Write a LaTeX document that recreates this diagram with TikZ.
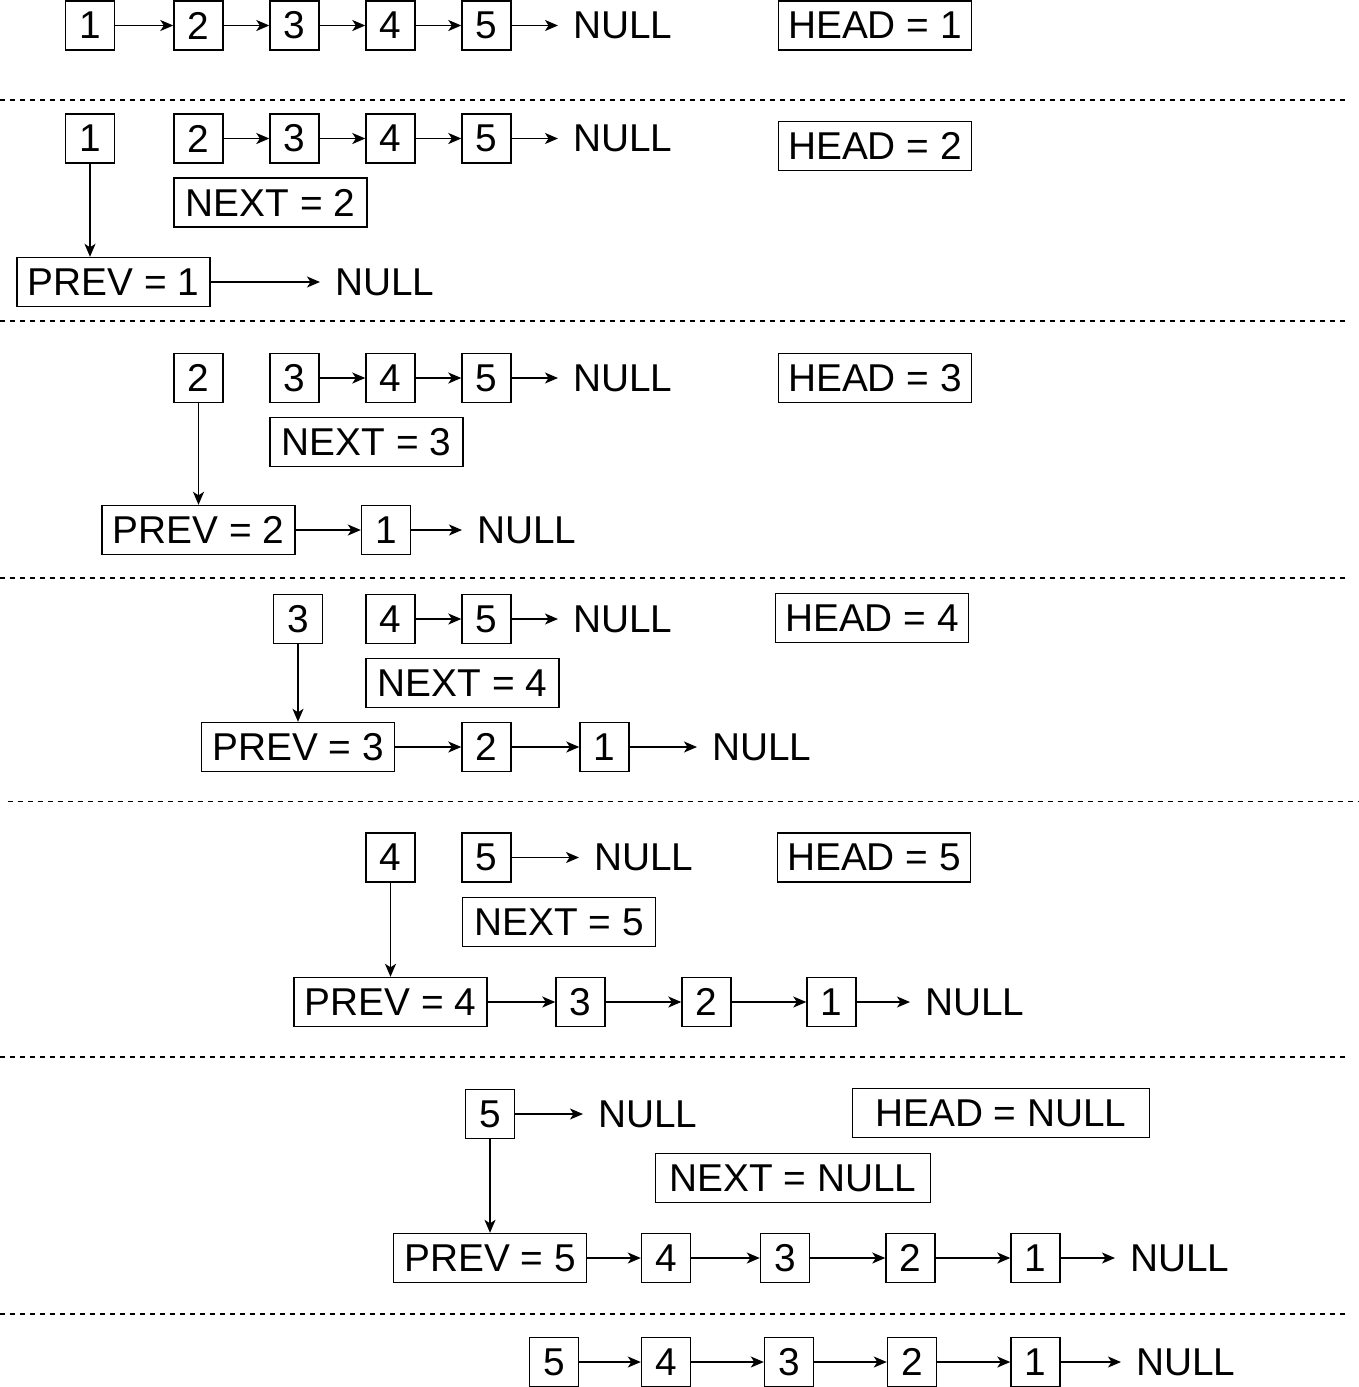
\documentclass[tikz,border=0pt]{standalone}
\usepackage{fontspec}
\setmainfont{Liberation Sans}
\usepackage{tikz}
\usetikzlibrary{positioning,arrows.meta}

\begin{document}
\begin{tikzpicture}[x=1pt,y=-1pt,font=\fontsize{38.8}{44}\selectfont,
    cell/.style={draw, line width=1.4pt, minimum width=49pt, minimum height=49pt, inner sep=0pt},
    wide/.style={cell, minimum width=193pt},
    nul/.style={inner sep=0pt, outer xsep=15pt, anchor=west},
    link/.style={line width=1.5pt, -{Stealth[length=13pt,width=11pt,inset=3.5pt]}},
    divider/.style={line width=1.4pt, dash pattern=on 5pt off 5pt}]
         \useasboundingbox (0,0) rectangle (1358,1387);
         % start
         \node[cell] (a1) at (90,25.5) {1};
         \node[cell] (a2) at (198.5,25.5) {2};
         \node[cell] (a3) at (294.5,25.5) {3};
         \node[cell] (a4) at (390.5,25.5) {4};
         \node[cell] (a5) at (486.5,25.5) {5};
         \node[nul] (an) at (558,25.5) {NULL};
         \node[wide] (ah) at (875,25.5) {HEAD = 1};
         \draw[link] (a1) -- (a2);
         \draw[link] (a2) -- (a3);
         \draw[link] (a3) -- (a4);
         \draw[link] (a4) -- (a5);
         \draw[link] (a5) -- (an);
         \draw[divider] (0,100) -- (1349,100);
         % step 1
         \node[cell] (b1) at (90,138.5) {1};
         \node[cell] (b2) at (198.5,138.5) {2};
         \node[cell] (b3) at (294.5,138.5) {3};
         \node[cell] (b4) at (390.5,138.5) {4};
         \node[cell] (b5) at (486.5,138.5) {5};
         \node[nul] (bn) at (558,138.5) {NULL};
         \node[wide] (bh) at (875,146) {HEAD = 2};
         \node[wide] (bx) at (270.5,202.5) {NEXT = 2};
         \node[wide] (bp) at (113.5,282) {PREV = 1};
         \node[nul] (bpn) at (320,282) {NULL};
         \draw[link] (b2) -- (b3);
         \draw[link] (b3) -- (b4);
         \draw[link] (b4) -- (b5);
         \draw[link] (b5) -- (bn);
         \draw[link] (b1) -- (b1 |- bp.north);
         \draw[link] (bp) -- (bpn);
         \draw[divider] (0,321) -- (1349,321);
         % step 2
         \node[cell] (c2) at (198.5,378) {2};
         \node[cell] (c3) at (294.5,378) {3};
         \node[cell] (c4) at (390.5,378) {4};
         \node[cell] (c5) at (486.5,378) {5};
         \node[nul] (cn) at (558,378) {NULL};
         \node[wide] (ch) at (875,378) {HEAD = 3};
         \node[wide] (cx) at (366.5,442) {NEXT = 3};
         \node[wide] (cp) at (198.5,530) {PREV = 2};
         \node[cell] (c1) at (386,530) {1};
         \node[nul] (cpn) at (462,530) {NULL};
         \draw[link] (c3) -- (c4);
         \draw[link] (c4) -- (c5);
         \draw[link] (c5) -- (cn);
         \draw[link] (c2) -- (c2 |- cp.north);
         \draw[link] (cp) -- (c1);
         \draw[link] (c1) -- (cpn);
         \draw[divider] (0,578) -- (1349,578);
         % step 3
         \node[cell] (d3) at (298,619) {3};
         \node[cell] (d4) at (390.5,619) {4};
         \node[cell] (d5) at (486.5,619) {5};
         \node[nul] (dn) at (558,619) {NULL};
         \node[wide] (dh) at (872,618) {HEAD = 4};
         \node[wide] (dx) at (462.5,683) {NEXT = 4};
         \node[wide] (dp) at (298,747) {PREV = 3};
         \node[cell] (d2) at (486.5,747) {2};
         \node[cell] (d1) at (604.5,747) {1};
         \node[nul] (dpn) at (697,747) {NULL};
         \draw[link] (d4) -- (d5);
         \draw[link] (d5) -- (dn);
         \draw[link] (d3) -- (d3 |- dp.north);
         \draw[link] (dp) -- (d2);
         \draw[link] (d2) -- (d1);
         \draw[link] (d1) -- (dpn);
         \draw[divider] (7.5,801.5) -- (1358,801.5);
         % step 4
         \node[cell] (e4) at (390.5,857.5) {4};
         \node[cell] (e5) at (486.5,857.5) {5};
         \node[nul] (en) at (579,857.5) {NULL};
         \node[wide] (eh) at (874,857.5) {HEAD = 5};
         \node[wide] (ex) at (559,922) {NEXT = 5};
         \node[wide] (ep) at (390.5,1002) {PREV = 4};
         \node[cell] (e3) at (580.5,1002) {3};
         \node[cell] (e2) at (706.5,1002) {2};
         \node[cell] (e1) at (831.5,1002) {1};
         \node[nul] (epn) at (910,1002) {NULL};
         \draw[link] (e5) -- (en);
         \draw[link] (e4) -- (e4 |- ep.north);
         \draw[link] (ep) -- (e3);
         \draw[link] (e3) -- (e2);
         \draw[link] (e2) -- (e1);
         \draw[link] (e1) -- (epn);
         \draw[divider] (0,1057) -- (1349,1057);
         % step 5
         \node[cell] (f5) at (490,1114) {5};
         \node[nul] (fn) at (583,1114) {NULL};
         \node[wide, minimum width=297pt] (fh) at (1001,1113) {HEAD = NULL};
         \node[wide, minimum width=275pt] (fx) at (793,1178) {NEXT = NULL};
         \node[wide] (fp) at (490,1258) {PREV = 5};
         \node[cell] (f4) at (666,1258) {4};
         \node[cell] (f3) at (785,1258) {3};
         \node[cell] (f2) at (910.5,1258) {2};
         \node[cell] (f1) at (1035.5,1258) {1};
         \node[nul] (fpn) at (1115,1258) {NULL};
         \draw[link] (f5) -- (fn);
         \draw[link] (f5) -- (f5 |- fp.north);
         \draw[link] (fp) -- (f4);
         \draw[link] (f4) -- (f3);
         \draw[link] (f3) -- (f2);
         \draw[link] (f2) -- (f1);
         \draw[link] (f1) -- (fpn);
         \draw[divider] (0,1314) -- (1349,1314);
         % result
         \node[cell] (g5) at (554,1362) {5};
         \node[cell] (g4) at (666,1362) {4};
         \node[cell] (g3) at (789,1362) {3};
         \node[cell] (g2) at (912,1362) {2};
         \node[cell] (g1) at (1035.5,1362) {1};
         \node[nul] (gn) at (1121,1362) {NULL};
         \draw[link] (g5) -- (g4);
         \draw[link] (g4) -- (g3);
         \draw[link] (g3) -- (g2);
         \draw[link] (g2) -- (g1);
         \draw[link] (g1) -- (gn);
    \end{tikzpicture}
\end{document}
